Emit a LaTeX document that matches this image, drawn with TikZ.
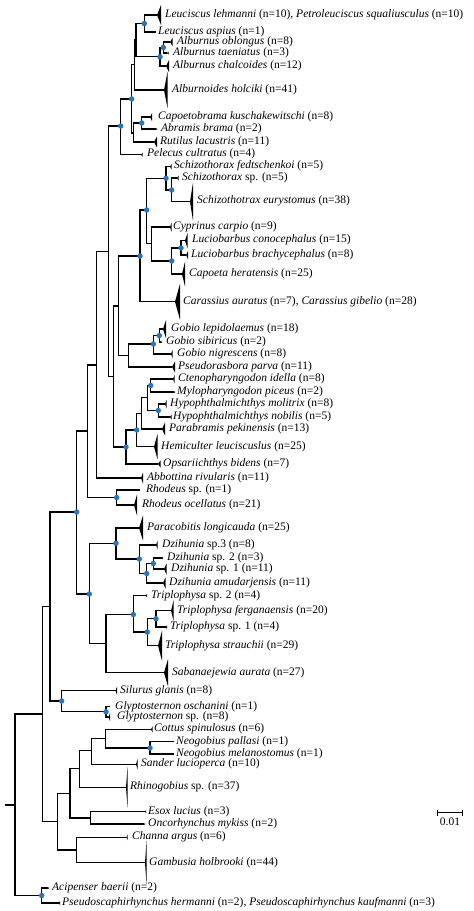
\documentclass[tikz,border=0pt]{standalone}
\usepackage{fontspec}
\setmainfont{Liberation Serif}
\usetikzlibrary{arrows.meta}
\definecolor{bootblue}{RGB}{46,117,182}

\begin{document}
\begin{tikzpicture}[x=1pt,y=-1pt,
  branch/.style={draw,line width=1.35pt},
  taxon/.style={anchor=mid west,inner sep=0pt,font=\fontsize{11.5}{13}\selectfont},
  support/.style={circle,fill=bootblue,inner sep=0pt,minimum size=5.5pt}]

  \useasboundingbox (0,0) rectangle (474,911);

  % internal nodes
  \coordinate (stem) at (5,805);
  \coordinate (root) at (15,805);
  \coordinate (teleo) at (42.7,714);
  \coordinate (acip) at (41.7,895.5);
  \coordinate (ostar) at (50,606.7);
  \coordinate (eupt) at (57.3,821.7);
  \coordinate (cypr) at (76.7,512);
  \coordinate (silur) at (61.7,701);
  \coordinate (glypt) at (106,711.8);
  \coordinate (cyA) at (87.5,431);
  \coordinate (cobit) at (89.3,594);
  \coordinate (cyB) at (96.7,365);
  \coordinate (rhod) at (116.7,497.5);
  \coordinate (cyC) at (108.3,251.3);
  \coordinate (leuc) at (120.7,126);
  \coordinate (cyD) at (113.3,376.7);
  \coordinate (leucA) at (131.7,99);
  \coordinate (leucB) at (134.5,64.7);
  \coordinate (leucC) at (136,39.5);
  \coordinate (leuci) at (144.3,23.5);
  \coordinate (alb) at (160,56.8);
  \coordinate (albB) at (163.3,47.5);
  \coordinate (abr) at (133.5,133);
  \coordinate (capb) at (141.7,123);
  \coordinate (barb) at (118.3,306);
  \coordinate (xen) at (126,447);
  \coordinate (cypB) at (140,256);
  \coordinate (gob) at (128.3,355.5);
  \coordinate (cypC) at (146.7,210);
  \coordinate (schiz) at (166,178.3);
  \coordinate (schizB) at (171.7,190);
  \coordinate (cypD) at (151.7,243.5);
  \coordinate (capo) at (171.7,261);
  \coordinate (lucio) at (181,248);
  \coordinate (gobA) at (153.3,344);
  \coordinate (gobB) at (159.3,335.5);
  \coordinate (xenA) at (136.7,430);
  \coordinate (xenB) at (141.7,413.5);
  \coordinate (xenC) at (147.3,397.7);
  \coordinate (cten) at (150.7,385.5);
  \coordinate (hyp) at (158.3,410.5);
  \coordinate (nemA) at (116,543.3);
  \coordinate (dzA) at (139.3,559);
  \coordinate (dzB) at (146.7,573.5);
  \coordinate (dzC) at (153.3,563.5);
  \coordinate (nemB) at (106,643.3);
  \coordinate (triA) at (133.3,614.5);
  \coordinate (triB) at (147.3,632);
  \coordinate (triC) at (156,618.8);
  \coordinate (perA) at (70,793.3);
  \coordinate (chan) at (76.7,850);
  \coordinate (perB) at (79.3,768.5);
  \coordinate (salm) at (90.7,818);
  \coordinate (perC) at (91.7,750.3);
  \coordinate (perD) at (105.7,738.6);
  \coordinate (neog) at (150,748);

  % tips and taxa
  \coordinate (tLL) at (157,15);    \node[taxon] (LL) at (165,15) {\textit{Leuciscus lehmanni} (n=10), \textit{Petroleuciscus squaliusculus} (n=10)};
  \coordinate (tLA) at (156,32);    \node[taxon] (LA) at (158,32) {\textit{Leuciscus aspius} (n=1)};
  \coordinate (tAO) at (170,42);    \node[taxon] (AO) at (177,42) {\textit{Alburnus oblongus} (n=8)};
  \coordinate (tAT) at (167,53);    \node[taxon] (AT) at (173,53) {\textit{Alburnus taeniatus} (n=3)};
  \coordinate (tAC) at (166,66);    \node[taxon] (AC) at (173,66) {\textit{Alburnus chalcoides} (n=12)};
  \coordinate (tAH) at (164,90);    \node[taxon] (AH) at (172,90) {\textit{Alburnoides holciki} (n=41)};
  \coordinate (tCK) at (150,117);   \node[taxon] (CK) at (158,117) {\textit{Capoetobrama kuschakewitschi} (n=8)};
  \coordinate (tAB) at (156,129);   \node[taxon] (AB) at (161,129) {\textit{Abramis brama} (n=2)};
  \coordinate (tRL) at (154,142);   \node[taxon] (RL) at (160,142) {\textit{Rutilus lacustris} (n=11)};
  \coordinate (tPC) at (141,154.7); \node[taxon] (PC) at (147,154.7) {\textit{Pelecus cultratus} (n=4)};
  \coordinate (tSF) at (170,166.7); \node[taxon] (SF) at (174,166.7) {\textit{Schizothorax fedtschenkoi} (n=5)};
  \coordinate (tSS) at (177,178);   \node[taxon] (SS) at (182,178) {\textit{Schizothorax} sp. (n=5)};
  \coordinate (tSE) at (190,201.7); \node[taxon] (SE) at (197,201.7) {\textit{Schizothotrax eurystomus} (n=38)};
  \coordinate (tCC) at (170,227);   \node[taxon] (CC) at (173,227) {\textit{Cyprinus carpio} (n=9)};
  \coordinate (tLC) at (185,240.7); \node[taxon] (LC) at (192,240.7) {\textit{Luciobarbus conocephalus} (n=15)};
  \coordinate (tLB) at (186,255);   \node[taxon] (LB) at (191,255) {\textit{Luciobarbus brachycephalus} (n=8)};
  \coordinate (tCH) at (182,274);   \node[taxon] (CH) at (189,274) {\textit{Capoeta heratensis} (n=25)};
  \coordinate (tCA) at (175,301.7); \node[taxon] (CA) at (183,301.7) {\textit{Carassius auratus} (n=7), \textit{Carassius gibelio} (n=28)};
  \coordinate (tGL) at (163,329);   \node[taxon] (GL) at (171,329) {\textit{Gobio lepidolaemus} (n=18)};
  \coordinate (tGS) at (161,342);   \node[taxon] (GS) at (166,342) {\textit{Gobio sibiricus} (n=2)};
  \coordinate (tGN) at (171,354);   \node[taxon] (GN) at (177,354) {\textit{Gobio nigrescens} (n=8)};
  \coordinate (tPP) at (172,367);   \node[taxon] (PP) at (178,367) {\textit{Pseudorasbora parva} (n=11)};
  \coordinate (tCI) at (173,379);   \node[taxon] (CI) at (178,379) {\textit{Ctenopharyngodon idella} (n=8)};
  \coordinate (tMP) at (174,392);   \node[taxon] (MP) at (177,392) {\textit{Mylopharyngodon piceus} (n=2)};
  \coordinate (tHM) at (165,404);   \node[taxon] (HM) at (170,404) {\textit{Hypophthalmichthys molitrix} (n=8)};
  \coordinate (tHN) at (170,417);   \node[taxon] (HN) at (173,417) {\textit{Hypophthalmichthys nobilis} (n=5)};
  \coordinate (tPK) at (162,429);   \node[taxon] (PK) at (169,429) {\textit{Parabramis pekinensis} (n=13)};
  \coordinate (tHL) at (154,446.7); \node[taxon] (HL) at (161,446.7) {\textit{Hemiculter leuciscuslus} (n=25)};
  \coordinate (tOB) at (158,464);   \node[taxon] (OB) at (163,464) {\textit{Opsariichthys bidens} (n=7)};
  \coordinate (tAR) at (141,478);   \node[taxon] (AR) at (147,478) {\textit{Abbottina rivularis} (n=11)};
  \coordinate (tRS) at (140,490);   \node[taxon] (RS) at (146,490) {\textit{Rhodeus} sp. (n=1)};
  \coordinate (tRO) at (134,505);   \node[taxon] (RO) at (142,505) {\textit{Rhodeus ocellatus} (n=21)};
  \coordinate (tPL) at (139,528);   \node[taxon] (PL) at (147,528) {\textit{Paracobitis longicauda} (n=25)};
  \coordinate (tD3) at (156,545);   \node[taxon] (D3) at (162,545) {\textit{Dzihunia} sp.3 (n=8)};
  \coordinate (tD2) at (162,558);   \node[taxon] (D2) at (167,558) {\textit{Dzihunia} sp. 2 (n=3)};
  \coordinate (tD1) at (164,569);   \node[taxon] (D1) at (171,569) {\textit{Dzihunia} sp. 1 (n=11)};
  \coordinate (tDA) at (163,583);   \node[taxon] (DA) at (169,583) {\textit{Dzihunia amudarjensis} (n=11)};
  \coordinate (tT2) at (146,595.7); \node[taxon] (T2) at (151,595.7) {\textit{Triplophysa} sp. 2 (n=4)};
  \coordinate (tTF) at (171,610.7); \node[taxon] (TF) at (177,610.7) {\textit{Triplophysa ferganaensis} (n=20)};
  \coordinate (tT1) at (166,627);   \node[taxon] (T1) at (170,627) {\textit{Triplophysa} sp. 1 (n=4)};
  \coordinate (tTS) at (158,645.7); \node[taxon] (TS) at (165,645.7) {\textit{Triplophysa strauchii} (n=29)};
  \coordinate (tSA) at (164,672.7); \node[taxon] (SA) at (172,672.7) {\textit{Sabanaejewia aurata} (n=27)};
  \coordinate (tSG) at (115.5,690.7); \node[taxon] (SG) at (120,690.7) {\textit{Silurus glanis} (n=8)};
  \coordinate (tGO) at (110,706.7); \node[taxon] (GO) at (115,706.7) {\textit{Glyptosternon oschanini} (n=1)};
  \coordinate (tGP) at (108.5,717); \node[taxon] (GP) at (117,717) {\textit{Glyptosternon} sp. (n=8)};
  \coordinate (tCS) at (151,729.3); \node[taxon] (CS) at (154,729.3) {\textit{Cottus spinulosus} (n=6)};
  \coordinate (tNP) at (174,741.7); \node[taxon] (NP) at (176,741.7) {\textit{Neogobius pallasi} (n=1)};
  \coordinate (tNM) at (174,754);   \node[taxon] (NM) at (176,754) {\textit{Neogobius melanostomus} (n=1)};
  \coordinate (tSL) at (136,764.3); \node[taxon] (SL) at (141,764.3) {\textit{Sander lucioperca} (n=10)};
  \coordinate (tRG) at (126,787.3); \node[taxon] (RG) at (130,787.3) {\textit{Rhinogobius} sp. (n=37)};
  \coordinate (tEL) at (145,811.7); \node[taxon] (EL) at (148,811.7) {\textit{Esox lucius} (n=3)};
  \coordinate (tOM) at (144,824);   \node[taxon] (OM) at (148,824) {\textit{Oncorhynchus mykiss} (n=2)};
  \coordinate (tCR) at (126.5,837.3); \node[taxon] (CR) at (132,837.3) {\textit{Channa argus} (n=6)};
  \coordinate (tGH) at (145,862.7); \node[taxon] (GH) at (149,862.7) {\textit{Gambusia holbrooki} (n=44)};
  \coordinate (tAcB) at (48,888);   \node[taxon] (AcB) at (52,888) {\textit{Acipenser baerii} (n=2)};
  \coordinate (tPH) at (59,903);    \node[taxon] (PH) at (62,903) {\textit{Pseudoscaphirhynchus hermanni} (n=2), \textit{Pseudoscaphirhynchus kaufmanni} (n=3)};

  % branches
  \draw[branch] (stem) -- (root);
  \foreach \p/\c in {root/teleo, root/acip, teleo/ostar, teleo/eupt, acip/tAcB, acip/tPH,
      ostar/cypr, ostar/silur, silur/tSG, silur/glypt, glypt/tGO, glypt/tGP,
      cypr/cyA, cypr/cobit, cyA/cyB, cyA/rhod, rhod/tRS, rhod/tRO,
      cyB/cyC, cyB/tAR, cyC/leuc, cyC/cyD, leuc/leucA, leuc/tPC,
      leucA/leucB, leucA/abr, leucB/leucC, leucB/tAH, leucC/leuci, leucC/alb,
      leuci/tLL, leuci/tLA, alb/albB, alb/tAC, albB/tAO, albB/tAT,
      abr/capb, abr/tRL, capb/tCK, capb/tAB,
      cyD/barb, cyD/xen, barb/cypB, barb/gob, cypB/cypC, cypB/tCA,
      cypC/schiz, cypC/cypD, schiz/tSF, schiz/schizB, schizB/tSS, schizB/tSE,
      cypD/tCC, cypD/capo, capo/lucio, capo/tCH, lucio/tLC, lucio/tLB,
      gob/gobA, gob/tPP, gobA/gobB, gobA/tGN, gobB/tGL, gobB/tGS,
      xen/xenA, xen/tOB, xenA/xenB, xenA/tHL, xenB/xenC, xenB/tPK,
      xenC/cten, xenC/hyp, cten/tCI, cten/tMP, hyp/tHM, hyp/tHN,
      cobit/nemA, cobit/nemB, nemA/tPL, nemA/dzA, dzA/tD3, dzA/dzB,
      dzB/dzC, dzB/tDA, dzC/tD2, dzC/tD1,
      nemB/triA, nemB/tSA, triA/tT2, triA/triB, triB/triC, triB/tTS, triC/tTF, triC/tT1,
      eupt/perA, eupt/chan, perA/perB, perA/salm, perB/perC, perB/tRG,
      perC/perD, perC/tSL, perD/tCS, perD/neog, neog/tNP, neog/tNM,
      salm/tEL, salm/tOM, chan/tCR, chan/tGH}
    \draw[branch] (\p) |- (\c);

  % collapsed clades
  \foreach \c/\w/\h in {tLL/4/20, tAO/2.5/8, tAT/1.5/3, tAC/3/12, tAH/3.5/36, tCK/2/8, tAB/1/2,
      tRL/3/11, tPC/1.5/4, tSF/1.5/5, tSS/1.5/5, tSE/3/38, tCC/1.5/9, tLC/2.5/15, tLB/2/8,
      tCH/3/25, tCA/5/36, tGL/3/18, tGS/1/2, tGN/1.5/8, tPP/3/11, tCI/1.5/8, tMP/1/2,
      tHM/1.5/8, tHN/1.5/5, tPK/3/13, tHL/3.5/25, tOB/2.5/7, tAR/2/11, tRO/3/21, tPL/4/25,
      tD3/1.5/8, tD2/1/3, tD1/2.5/11, tDA/2.5/11, tT2/1/4, tTF/2.5/20, tT1/1/4, tTS/4/30,
      tSA/4/27, tSG/1.5/8, tGP/1.5/8, tCS/1.5/6, tSL/1.5/10, tRG/1.5/40, tEL/1/3,
      tOM/1/2, tCR/1.2/6, tGH/1.5/43, tAcB/1/2, tPH/1.2/5}
    \fill (\c) -- ++(\w,-\h/2) -- ++(0,\h) -- cycle;

  % support
  \foreach \n in {acip, cypr, silur, glypt, cobit, rhod, leuc, leucA, capb, leuci, alb, albB,
      xen, cypB, cypC, schiz, schizB, capo, lucio, gobA, gobB, xenA, cten, hyp,
      nemA, dzA, dzB, dzC, triA, triB, triC, neog}
    \node[support] (s\n) at (\n) {};

  % scale
  \coordinate (sbl) at (437,812.7);
  \coordinate (sbr) at (463,812.7);
  \draw[line width=1.35pt,{Bar[width=6pt]}-{Bar[width=6pt]}] (sbl) -- (sbr);
  \node[taxon,anchor=mid] (sbtext) at (450,823) {0.01};

\end{tikzpicture}
\end{document}
